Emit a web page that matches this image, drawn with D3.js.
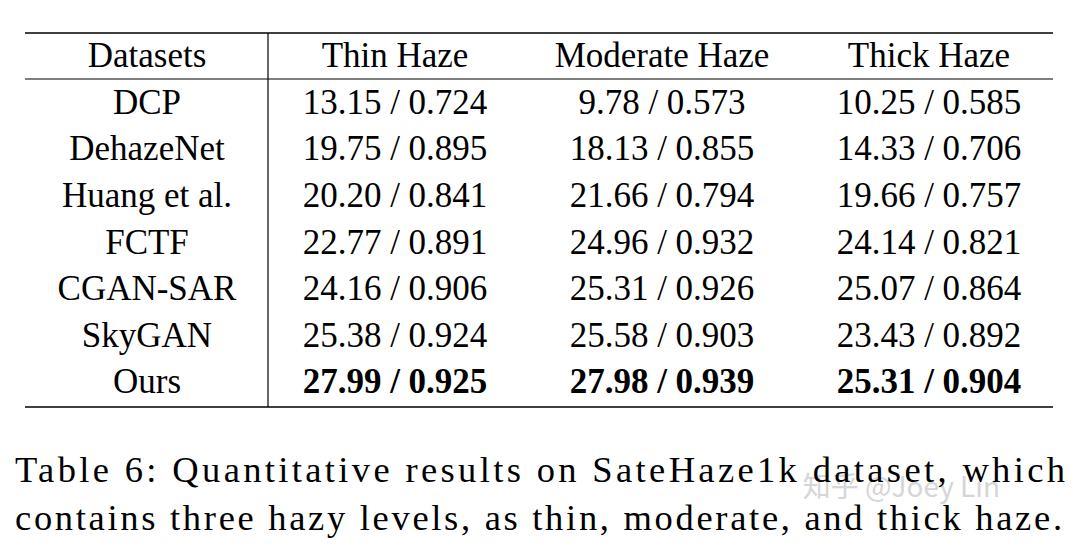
<!DOCTYPE html>
<html><head><meta charset="utf-8">
<script src="https://cdn.jsdelivr.net/npm/d3@7"></script>
<style>body{margin:0;background:#fff}</style>
</head><body><svg id="c" width="1087" height="553"></svg>
<script>
const headers = ["Datasets","Thin Haze","Moderate Haze","Thick Haze"];
const methods = ["DCP","DehazeNet","Huang et al.","FCTF","CGAN-SAR","SkyGAN","Ours"];
const thin = ["13.15 / 0.724","19.75 / 0.895","20.20 / 0.841","22.77 / 0.891","24.16 / 0.906","25.38 / 0.924","27.99 / 0.925"];
const moderate = ["9.78 / 0.573","18.13 / 0.855","21.66 / 0.794","24.96 / 0.932","25.31 / 0.926","25.58 / 0.903","27.98 / 0.939"];
const thick = ["10.25 / 0.585","14.33 / 0.706","19.66 / 0.757","24.14 / 0.821","25.07 / 0.864","23.43 / 0.892","25.31 / 0.904"];
const caption = ["Table 6: Quantitative results on SateHaze1k dataset, which","contains three hazy levels, as thin, moderate, and thick haze."];

(function(){
const svg = d3.select("#c");
const font = "'Liberation Serif','Times New Roman',serif";
const x = d3.scaleOrdinal().domain([0,1,2,3]).range([147,395,662,929]);
const y = d3.scaleBand().domain(methods).range([78,404]);
const L=25,R=1053,yTop=33,hb=79,bot=407;
[[yTop,1.6],[hb,1.2],[bot,1.6]].forEach(([yy,w])=>svg.append("line").attr("x1",L).attr("x2",R).attr("y1",yy).attr("y2",yy).attr("stroke","#000").attr("stroke-width",w));
svg.append("line").attr("x1",268).attr("x2",268).attr("y1",yTop).attr("y2",bot).attr("stroke","#000").attr("stroke-width",1.2);
const T=(s,xx,yy,bold)=>svg.append("text").attr("x",xx).attr("y",yy).attr("text-anchor","middle").attr("dominant-baseline","central")
  .attr("font-family",font).attr("font-size",35).attr("font-weight",bold?"bold":"normal").text(s);
headers.forEach((h,i)=>T(h,x(i),55));
const cols=[methods,thin,moderate,thick];
methods.forEach((m,r)=>{
  cols.forEach((c,i)=>T(c[r],x(i),y(m)+y.bandwidth()/2+1,i>0&&m==="Ours"));
});
svg.append("text").attr("x",1000).attr("y",497).attr("text-anchor","end").attr("font-family","'Noto Sans CJK SC',sans-serif")
  .attr("font-size",28).attr("fill","#ccc").attr("opacity",0.8).text("知乎 @Joey Lin");
caption.forEach((c,i)=>svg.append("text").attr("x",15).attr("y",482+i*48).attr("font-family",font).attr("font-size",36.5)
  .attr("textLength",i===0?1050:1047).attr("lengthAdjust","spacing").text(c));
})();
</script></body></html>
